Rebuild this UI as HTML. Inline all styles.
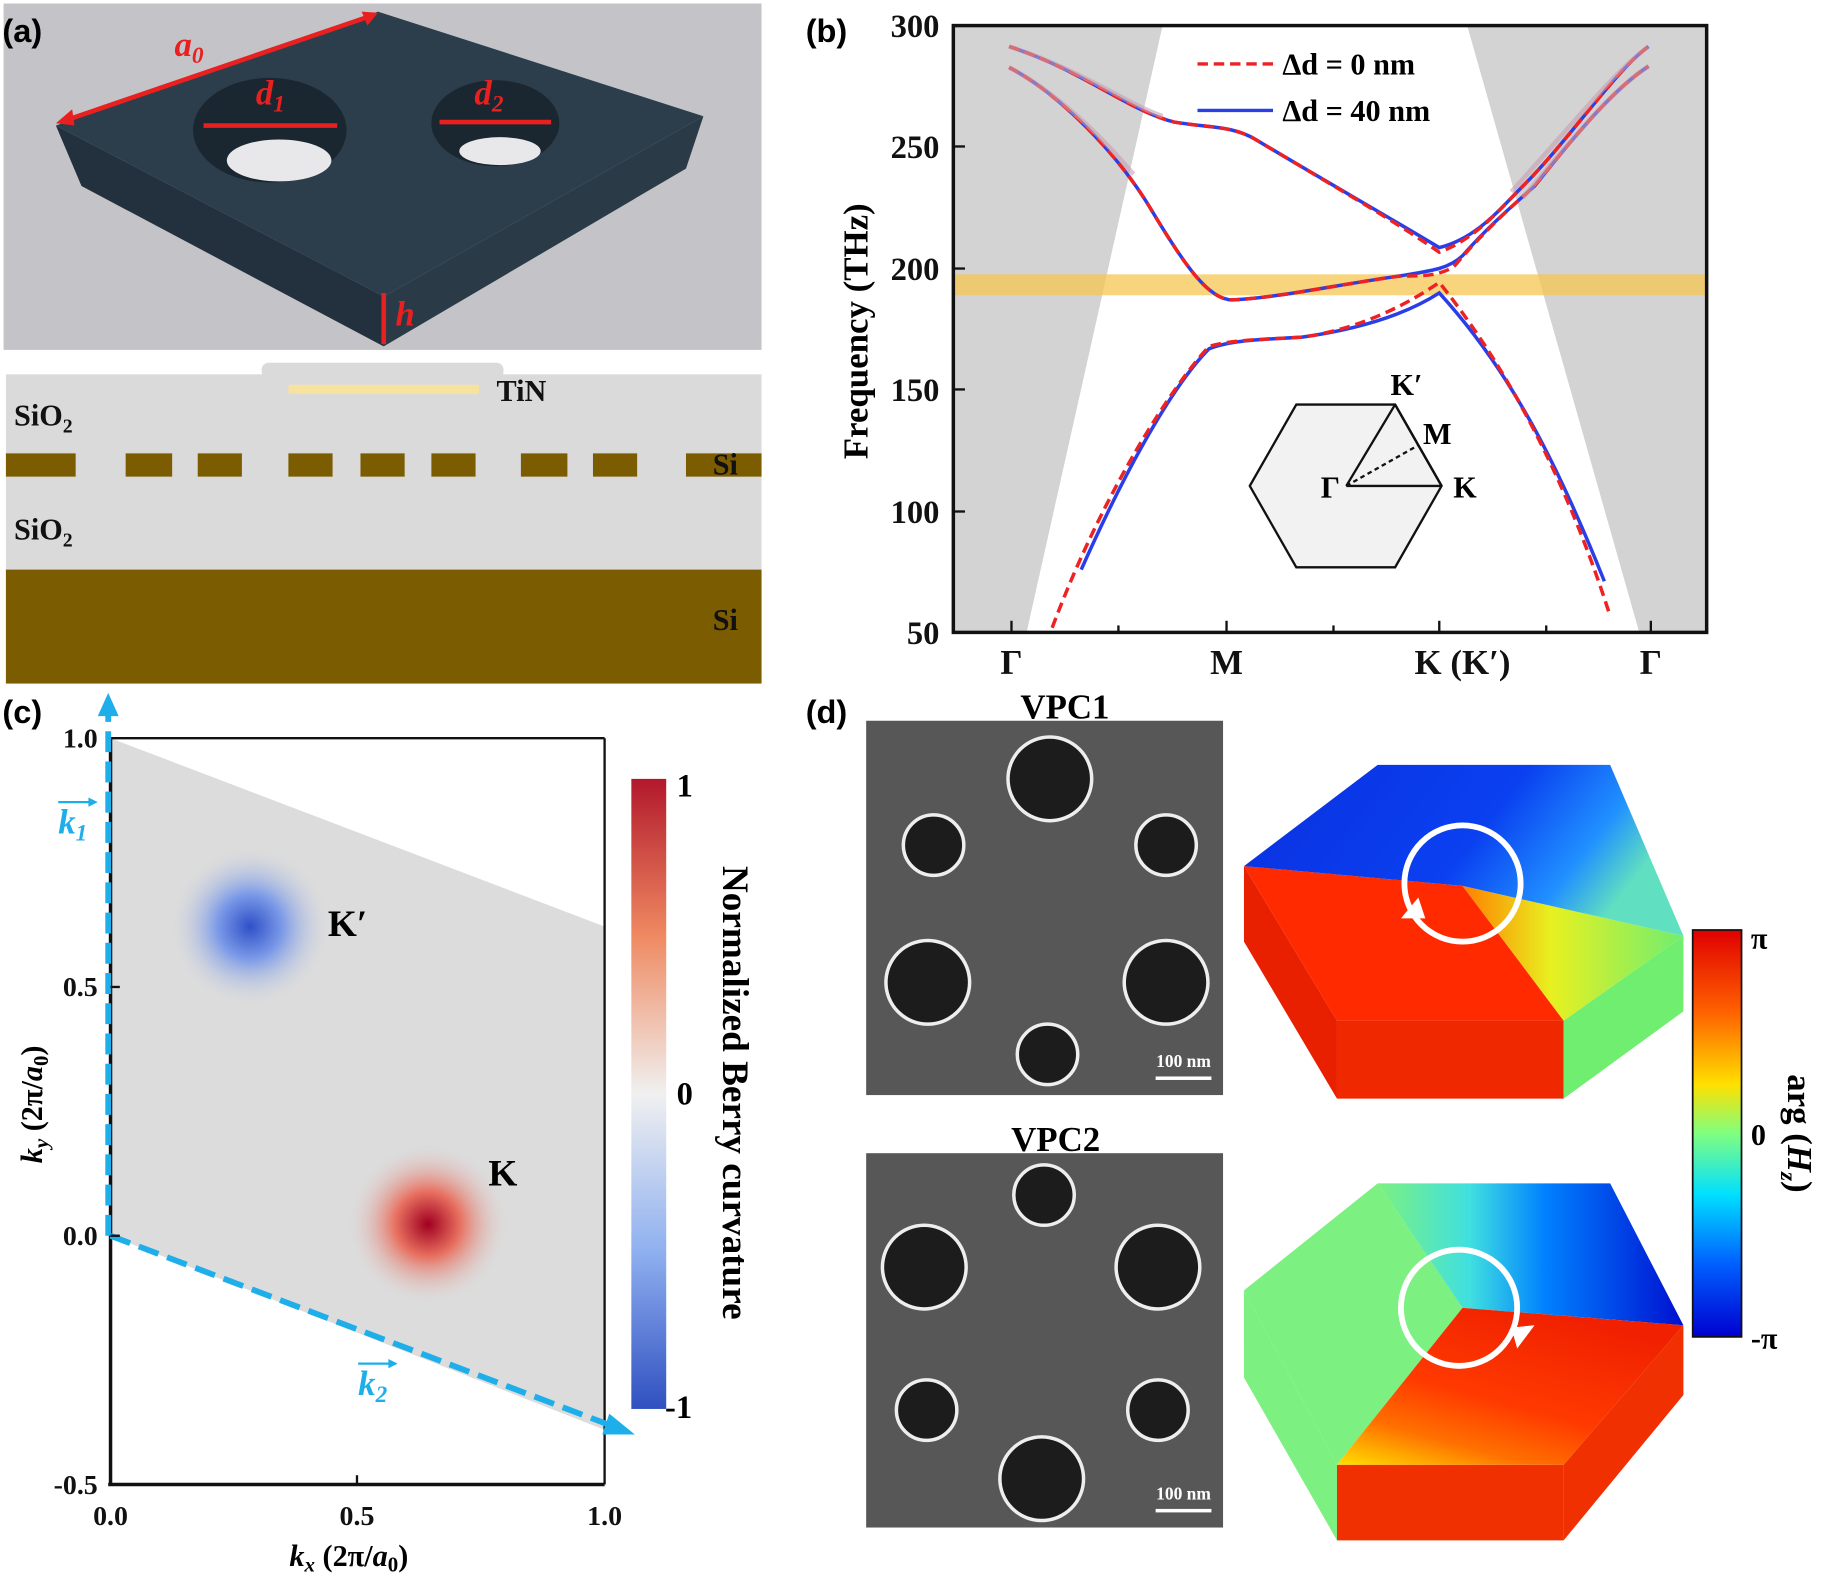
<!DOCTYPE html>
<html><head><meta charset="utf-8"><style>html,body{margin:0;padding:0;background:#fff}svg{display:block}</style></head><body>
<svg width="1823" height="1581" viewBox="0 0 1568 1360" xmlns="http://www.w3.org/2000/svg" font-family="Liberation Serif, serif">
<defs>
<linearGradient id="cb" x1="0" y1="0" x2="0" y2="1"><stop offset="0" stop-color="#b2182b"/><stop offset="0.25" stop-color="#ef8a62"/><stop offset="0.5" stop-color="#f0f0f0"/><stop offset="0.75" stop-color="#8fb0f0"/><stop offset="1" stop-color="#3050c0"/></linearGradient>
<linearGradient id="jet" x1="0" y1="0" x2="0" y2="1"><stop offset="0" stop-color="#e00000"/><stop offset="0.2" stop-color="#ff6000"/><stop offset="0.38" stop-color="#ffe000"/><stop offset="0.5" stop-color="#80ff80"/><stop offset="0.65" stop-color="#00e0ff"/><stop offset="0.82" stop-color="#0060ff"/><stop offset="1" stop-color="#0000d0"/></linearGradient>
<radialGradient id="rb"><stop offset="0" stop-color="#2f50c8"/><stop offset="0.4" stop-color="#7b9ae8"/><stop offset="1" stop-color="#dcdcdc" stop-opacity="0"/></radialGradient>
<radialGradient id="rr"><stop offset="0" stop-color="#a00020"/><stop offset="0.4" stop-color="#e87060"/><stop offset="1" stop-color="#dcdcdc" stop-opacity="0"/></radialGradient>
<linearGradient id="hb1" x1="0" y1="0" x2="1" y2="0.3"><stop offset="0" stop-color="#0a30e0"/><stop offset="0.6" stop-color="#0a40f0"/><stop offset="0.85" stop-color="#2090ff"/><stop offset="1" stop-color="#60e0c0"/></linearGradient>
<linearGradient id="hw1" x1="0" y1="0" x2="1" y2="0"><stop offset="0" stop-color="#ff8000"/><stop offset="0.4" stop-color="#e8f020"/><stop offset="1" stop-color="#70ee70"/></linearGradient>
<linearGradient id="hb2" x1="0" y1="0" x2="1" y2="0"><stop offset="0" stop-color="#7cf080"/><stop offset="0.3" stop-color="#40e0e0"/><stop offset="0.55" stop-color="#0080ff"/><stop offset="1" stop-color="#0010d0"/></linearGradient>
<linearGradient id="hr2" x1="0" y1="1" x2="0.6" y2="0"><stop offset="0" stop-color="#ffe000"/><stop offset="0.25" stop-color="#ff7000"/><stop offset="0.5" stop-color="#ff3a00"/><stop offset="1" stop-color="#f02000"/></linearGradient>
</defs>
<rect width="1568" height="1360" fill="#fff"/>
<!-- (a) -->
<rect x="3" y="3" width="652" height="298" fill="#c4c4c8"/>
<polygon points="48,108 330,255 330,298 70,160" fill="#22313d"/>
<polygon points="330,255 605,100 590,145 330,298" fill="#2a3a47"/>
<polygon points="48,108 325,10 605,100 330,255" fill="#2c3d4b"/>
<ellipse cx="232" cy="112" rx="66" ry="45" fill="#1a2630"/>
<ellipse cx="240" cy="138" rx="45" ry="18" fill="#e8e8ea"/>
<ellipse cx="426" cy="106" rx="55" ry="37" fill="#1a2630"/>
<ellipse cx="430" cy="130" rx="35" ry="12" fill="#e8e8ea"/>
<g stroke="#e82020" stroke-width="4" fill="#e82020">
<line x1="55" y1="104" x2="318" y2="14"/><polygon points="48,106 62,94 64,108" stroke="none"/><polygon points="325,11 311,10 316,22" stroke="none"/>
<line x1="175" y1="108" x2="290" y2="108"/><line x1="378" y1="105" x2="474" y2="105"/>
<line x1="330" y1="252" x2="330" y2="296"/></g>
<g font-style="italic" font-weight="bold" fill="#e82020" font-size="30"><text x="150" y="48">a<tspan font-size="20" dy="6">0</tspan></text><text x="220" y="90">d<tspan font-size="20" dy="6">1</tspan></text><text x="408" y="90">d<tspan font-size="20" dy="6">2</tspan></text><text x="340" y="280">h</text></g>
<rect x="5" y="322" width="650" height="266" fill="#dadada"/>
<rect x="225" y="312" width="208" height="14" rx="6" fill="#dadada"/>
<rect x="248" y="331" width="164" height="8" fill="#f8e2a0"/>
<g fill="#7b5c00"><rect x="5" y="390" width="60" height="20"/><rect x="108" y="390" width="40" height="20"/><rect x="170" y="390" width="38" height="20"/><rect x="248" y="390" width="38" height="20"/><rect x="310" y="390" width="38" height="20"/><rect x="371" y="390" width="38" height="20"/><rect x="448" y="390" width="40" height="20"/><rect x="510" y="390" width="38" height="20"/><rect x="590" y="390" width="65" height="20"/><rect x="5" y="490" width="650" height="98"/></g>
<g font-weight="bold" font-size="26" fill="#111"><text x="427" y="345">TiN</text><text x="12" y="366">SiO<tspan font-size="17" dy="6">2</tspan></text><text x="12" y="464">SiO<tspan font-size="17" dy="6">2</tspan></text><text x="613" y="408">Si</text><text x="613" y="542">Si</text></g>
<g font-family="Liberation Sans, sans-serif" font-weight="bold" font-size="28"><text x="2" y="36">(a)</text><text x="693" y="36">(b)</text><text x="2" y="622">(c)</text><text x="693" y="622">(d)</text></g>
<!-- (b) -->
<polygon points="820,22 1000,22 883,544 820,544" fill="#d3d3d3"/>
<polygon points="1262,22 1468,22 1468,544 1410,544" fill="#d3d3d3"/>
<rect x="820" y="236" width="648" height="18" fill="#f5c550" opacity="0.75"/>
<g fill="none" stroke-width="3">
<g stroke="#2a3ee8">
<path d="M868,40 C930,60 970,95 1010,105 C1040,110 1060,108 1080,120 C1130,150 1200,190 1238,213 C1270,205 1290,180 1310,160 C1350,120 1390,60 1418,40"/>
<path d="M868,58 C910,80 960,130 990,180 C1020,230 1040,258 1060,258 C1100,256 1150,245 1200,238 C1230,233 1245,232 1258,220 C1280,195 1300,178 1320,160 C1360,110 1390,75 1418,57"/>
<path d="M930,490 C970,400 1010,330 1040,300 C1060,292 1090,292 1120,290 C1170,283 1210,270 1238,252 C1300,320 1340,400 1380,500"/>
</g>
<g stroke="#ee2222" stroke-dasharray="9,5">
<path d="M868,40 C930,60 970,95 1010,105 C1040,110 1060,108 1080,120 C1130,150 1200,190 1238,217 C1270,205 1290,180 1310,160 C1350,120 1390,60 1418,40"/>
<path d="M868,58 C910,80 960,130 990,180 C1020,230 1040,258 1060,258 C1100,256 1150,245 1200,238 C1220,236 1230,240 1250,230 C1280,195 1300,178 1320,160 C1360,110 1390,75 1418,57"/>
<path d="M905,540 C950,420 1010,330 1040,298 C1060,292 1090,292 1120,290 C1170,283 1210,262 1238,243 C1300,320 1350,420 1385,530"/>
</g>
<path d="M868,40 C930,60 970,90 1000,100 M868,58 C910,80 950,120 975,150 M1300,165 C1350,110 1390,60 1418,40 M1310,170 C1360,110 1390,75 1418,57" stroke="#c8a0b0" opacity="0.6" stroke-width="4"/>
</g>
<rect x="820" y="22" width="648" height="522" fill="none" stroke="#111" stroke-width="3"/>
<g stroke="#111" stroke-width="2"><line x1="870" y1="544" x2="870" y2="534"/><line x1="1055" y1="544" x2="1055" y2="534"/><line x1="1238" y1="544" x2="1238" y2="534"/><line x1="1420" y1="544" x2="1420" y2="534"/>
<line x1="820" y1="126" x2="830" y2="126"/><line x1="820" y1="231" x2="830" y2="231"/><line x1="820" y1="335" x2="830" y2="335"/><line x1="820" y1="440" x2="830" y2="440"/>
<line x1="962" y1="544" x2="962" y2="538"/><line x1="1147" y1="544" x2="1147" y2="538"/><line x1="1330" y1="544" x2="1330" y2="538"/></g>
<g font-size="28" font-weight="bold" fill="#111" text-anchor="end"><text x="808" y="32">300</text><text x="808" y="136">250</text><text x="808" y="241">200</text><text x="808" y="345">150</text><text x="808" y="450">100</text><text x="808" y="554">50</text></g>
<g font-size="30" font-weight="bold" fill="#111" text-anchor="middle"><text x="870" y="580">Γ</text><text x="1055" y="580">M</text><text x="1258" y="580">K (K′)</text><text x="1420" y="580">Γ</text></g>
<text transform="translate(746,285) rotate(-90)" text-anchor="middle" font-size="30" font-weight="bold">Frequency (THz)</text>
<line x1="1030" y1="55" x2="1095" y2="55" stroke="#ee2222" stroke-width="3" stroke-dasharray="9,5"/><line x1="1030" y1="95" x2="1095" y2="95" stroke="#2a3ee8" stroke-width="3"/>
<g font-size="26" font-weight="bold"><text x="1103" y="64">Δd = 0 nm</text><text x="1103" y="104">Δd = 40 nm</text></g>
<polygon points="1115,488 1200,488 1240,418 1200,348 1115,348 1075,418" fill="#f2f2f2" stroke="#111" stroke-width="2"/>
<g stroke="#111" stroke-width="2"><line x1="1158" y1="418" x2="1200" y2="348"/><line x1="1158" y1="418" x2="1240" y2="418"/><line x1="1200" y1="348" x2="1240" y2="418"/><line x1="1158" y1="418" x2="1220" y2="383" stroke-dasharray="4,3"/></g>
<g font-size="26" font-weight="bold"><text x="1196" y="340">K′</text><text x="1224" y="382">M</text><text x="1136" y="428">Γ</text><text x="1250" y="428">K</text></g>
<!-- (c) -->
<polygon points="95,635 520,797 520,1230 95,1063" fill="#dcdcdc"/>
<circle cx="215" cy="797" r="70" fill="url(#rb)"/>
<circle cx="368" cy="1053" r="70" fill="url(#rr)"/>
<line x1="95" y1="1277" x2="95" y2="635" stroke="#111" stroke-width="3"/>
<line x1="93" y1="1277" x2="520" y2="1277" stroke="#111" stroke-width="3"/>
<line x1="520" y1="635" x2="520" y2="1277" stroke="#111" stroke-width="2"/>
<line x1="93" y1="635" x2="520" y2="635" stroke="#111" stroke-width="2"/>
<line x1="93" y1="1063" x2="93" y2="612" stroke="#1eaeea" stroke-width="5" stroke-dasharray="18,8"/>
<polygon points="84,616 102,616 93,596" fill="#1eaeea"/>
<line x1="95" y1="1063" x2="530" y2="1228" stroke="#1eaeea" stroke-width="5" stroke-dasharray="18,8"/>
<polygon points="524,1216 518,1234 546,1234" fill="#1eaeea"/>
<g font-size="24" font-weight="bold" fill="#111" text-anchor="end"><text x="84" y="643">1.0</text><text x="84" y="857">0.5</text><text x="84" y="1071">0.0</text><text x="84" y="1285">-0.5</text></g>
<g font-size="24" font-weight="bold" fill="#111" text-anchor="middle"><text x="95" y="1312">0.0</text><text x="307" y="1312">0.5</text><text x="520" y="1312">1.0</text></g>
<g stroke="#111" stroke-width="2"><line x1="95" y1="849" x2="103" y2="849"/><line x1="95" y1="1063" x2="103" y2="1063"/><line x1="307" y1="1277" x2="307" y2="1269"/></g>
<text x="300" y="1347" text-anchor="middle" font-size="26" font-weight="bold"><tspan font-style="italic">k<tspan font-size="18" dy="5">x</tspan></tspan><tspan dy="-5"> (2π/</tspan><tspan font-style="italic">a</tspan><tspan font-size="18" dy="5">0</tspan><tspan dy="-5">)</tspan></text>
<text transform="translate(36,950) rotate(-90)" text-anchor="middle" font-size="26" font-weight="bold"><tspan font-style="italic">k<tspan font-size="18" dy="5">y</tspan></tspan><tspan dy="-5"> (2π/</tspan><tspan font-style="italic">a</tspan><tspan font-size="18" dy="5">0</tspan><tspan dy="-5">)</tspan></text>
<g font-size="30" font-weight="bold" fill="#1eaeea" font-style="italic"><text x="50" y="717">k<tspan font-size="20" dy="6">1</tspan></text><text x="308" y="1200">k<tspan font-size="20" dy="6">2</tspan></text></g>
<g stroke="#1eaeea" stroke-width="2" fill="#1eaeea"><line x1="50" y1="690" x2="80" y2="690"/><line x1="308" y1="1173" x2="338" y2="1173"/><polygon points="84,690 76,686 76,694" stroke="none"/><polygon points="342,1173 334,1169 334,1177" stroke="none"/></g>
<g font-size="32" font-weight="bold"><text x="282" y="805">K′</text><text x="420" y="1020">K</text></g>
<rect x="543" y="670" width="30" height="542" fill="url(#cb)"/>
<g font-size="28" font-weight="bold"><text x="582" y="685">1</text><text x="582" y="950">0</text><text x="572" y="1220">-1</text></g>
<text transform="translate(622,940) rotate(90)" text-anchor="middle" font-size="32" font-weight="bold">Normalized Berry curvature</text>
<!-- (d) -->
<g font-size="30" font-weight="bold" text-anchor="middle"><text x="916" y="618">VPC1</text><text x="908" y="990">VPC2</text></g>
<rect x="745" y="620" width="307" height="322" fill="#575757"/>
<g fill="#1c1c1c" stroke="#eee" stroke-width="3"><circle cx="903" cy="670" r="36"/><circle cx="803" cy="727" r="26"/><circle cx="1003" cy="727" r="26"/><circle cx="798" cy="845" r="36"/><circle cx="1003" cy="845" r="36"/><circle cx="901" cy="907" r="26"/></g>
<text x="1018" y="918" text-anchor="middle" font-size="15" font-weight="bold" fill="#fff">100 nm</text><rect x="994" y="926" width="48" height="3" fill="#fff"/>
<rect x="745" y="992" width="307" height="322" fill="#575757"/>
<g fill="#1c1c1c" stroke="#eee" stroke-width="3"><circle cx="898" cy="1028" r="26"/><circle cx="795" cy="1090" r="36"/><circle cx="996" cy="1090" r="36"/><circle cx="797" cy="1213" r="26"/><circle cx="996" cy="1213" r="26"/><circle cx="896" cy="1272" r="36"/></g>
<text x="1018" y="1290" text-anchor="middle" font-size="15" font-weight="bold" fill="#fff">100 nm</text><rect x="994" y="1298" width="48" height="3" fill="#fff"/>
<!-- hex1 -->
<polygon points="1070,745 1150,878 1150,945 1070,810" fill="#e82000"/>
<polygon points="1150,878 1345,878 1345,945 1150,945" fill="#f02800"/>
<polygon points="1345,878 1448,805 1448,870 1345,945" fill="#70ee70"/>
<polygon points="1070,745 1258,762 1345,878 1150,878" fill="#ff2a00"/>
<polygon points="1258,762 1448,805 1345,878" fill="url(#hw1)"/>
<polygon points="1070,745 1185,658 1385,658 1448,805 1258,762" fill="url(#hb1)"/>
<circle cx="1258" cy="760" r="50" fill="none" stroke="#fff" stroke-width="5"/>
<polygon points="1205,790 1220,772 1226,790" fill="#fff"/>
<!-- hex2 -->
<polygon points="1070,1110 1150,1260 1150,1325 1070,1185" fill="#7cf080"/>
<polygon points="1150,1260 1345,1260 1345,1325 1150,1325" fill="#f03000"/>
<polygon points="1345,1260 1448,1140 1448,1200 1345,1325" fill="#f03000"/>
<polygon points="1070,1110 1185,1018 1258,1125 1150,1260" fill="#7cf080"/>
<polygon points="1185,1018 1385,1018 1448,1140 1258,1125" fill="url(#hb2)"/>
<polygon points="1258,1125 1448,1140 1345,1260 1150,1260" fill="url(#hr2)"/>
<circle cx="1255" cy="1125" r="50" fill="none" stroke="#fff" stroke-width="5"/>
<polygon points="1305,1160 1320,1140 1300,1142" fill="#fff"/>
<rect x="1456" y="800" width="42" height="350" fill="url(#jet)" stroke="#111" stroke-width="1.5"/>
<g font-size="26" font-weight="bold"><text x="1506" y="816">π</text><text x="1506" y="985">0</text><text x="1506" y="1160">-π</text></g>
<text transform="translate(1538,975) rotate(90)" text-anchor="middle" font-size="30" font-weight="bold">arg (<tspan font-style="italic">H<tspan font-size="20" dy="6">z</tspan></tspan><tspan dy="-6">)</tspan></text>
</svg>
</body></html>
